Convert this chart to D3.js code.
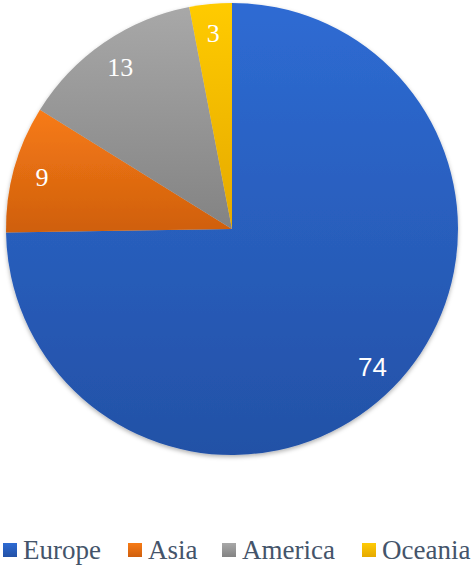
<!DOCTYPE html>
<html>
    <head>
        <meta charset="utf-8">
        <title>Pie by region</title>
        <script src="https://d3js.org/d3.v7.min.js"></script>
        <style>
            body { margin: 0; background: #fff; }
            .serif { font-family: "Liberation Serif", "Times New Roman", Times, serif; }
            .sans { font-family: "Liberation Sans", Arial, sans-serif; }
        </style>
    </head>
    <body>
        <script>

        // Data
        const regions = ["Europe", "Asia", "America", "Oceania"];
        const counts = [74, 9, 13, 3];
        const topColors = ["#2e6bd3", "#f77b15", "#a8a8a8", "#ffcb05"];
        const bottomColors = ["#2351a6", "#cf5f0e", "#838383", "#e5a900"];

        const data = regions.map((r, i) => ({ region: r, value: counts[i] }));

        // Size
        const svgWidth = 474;
        const svgHeight = 568;
        const cx = 232, cy = 229;
        const radius = 226;
        const labelRadius = 197;

        const svg = d3.select("body").append("svg")
            .attr("width", svgWidth)
            .attr("height", svgHeight);

        const defs = svg.append("defs");

        // per slice vertical gradient
        regions.forEach((r, i) => {
            const g = defs.append("linearGradient")
                .attr("id", "grad" + i)
                .attr("x1", 0).attr("y1", 0)
                .attr("x2", 0).attr("y2", 1);
            g.append("stop").attr("offset", "0%").attr("stop-color", topColors[i]);
            g.append("stop").attr("offset", "100%").attr("stop-color", bottomColors[i]);
        });

        const shadow = defs.append("filter")
            .attr("id", "shadow")
            .attr("x", "-10%").attr("y", "-10%")
            .attr("width", "120%").attr("height", "120%");
        shadow.append("feDropShadow")
            .attr("dx", 0).attr("dy", 2)
            .attr("stdDeviation", 2)
            .attr("flood-color", "#000")
            .attr("flood-opacity", 0.3);

        const pie = d3.pie()
            .sort(null)
            .value(d => d.value);

        const arc = d3.arc()
            .innerRadius(0)
            .outerRadius(radius);

        const labelArc = d3.arc()
            .innerRadius(labelRadius)
            .outerRadius(labelRadius);

        const g = svg.append("g")
            .attr("transform", `translate(${cx},${cy})`);

        const arcs = pie(data);

        g.append("g")
            .attr("filter", "url(#shadow)")
            .selectAll("path")
            .data(arcs)
            .join("path")
            .attr("d", arc)
            .attr("fill", (d, i) => `url(#grad${i})`);

        g.selectAll("text.lbl")
            .data(arcs)
            .join("text")
            .attr("class", d => d.data.region === "Europe" ? "lbl sans" : "lbl serif")
            .attr("transform", d => `translate(${labelArc.centroid(d)})`)
            .attr("text-anchor", "middle")
            .attr("dy", "0.35em")
            .attr("fill", "#fff")
            .style("font-size", "26px")
            .text(d => d.data.value);

        // Legend
        const legendX = [3, 128, 222, 362];
        const legend = svg.append("g")
            .attr("transform", "translate(0,543)");

        const items = legend.selectAll("g")
            .data(regions)
            .join("g")
            .attr("transform", (d, i) => `translate(${legendX[i]},0)`);

        items.append("rect")
            .attr("width", 14)
            .attr("height", 14)
            .attr("fill", (d, i) => `url(#grad${i})`);

        items.append("text")
            .attr("class", "serif")
            .attr("x", 20)
            .attr("y", 16)
            .attr("fill", "#44546a")
            .style("font-size", "27px")
            .text(d => d);

        </script>
    </body>
</html>
